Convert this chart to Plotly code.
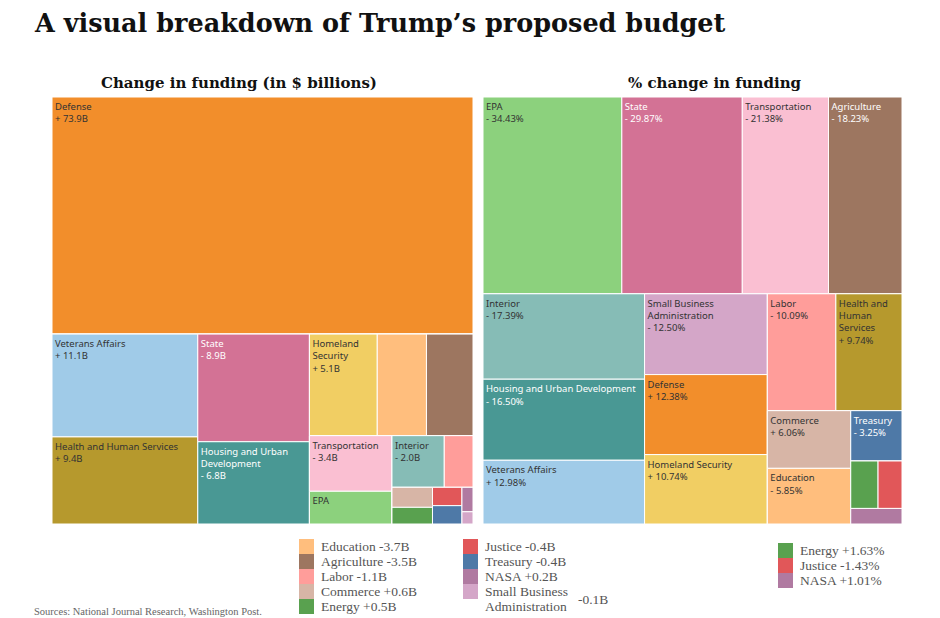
import plotly.graph_objects as go

# ---- data ----
departments = ["Defense", "Veterans Affairs", "Health and Human Services", "State",
               "Housing and Urban Development", "Homeland Security", "Education",
               "Agriculture", "Transportation", "Interior", "EPA", "Labor", "Commerce",
               "Energy", "Justice", "Treasury", "NASA", "Small Business Administration"]
change_billions = [73.9, 11.1, 9.4, -8.9, -6.8, 5.1, -3.7, -3.5, -3.4, -2.0, -2.0,
                   -1.1, 0.6, 0.5, -0.4, -0.4, 0.2, -0.1]
pct_departments = ["EPA", "State", "Transportation", "Agriculture", "Interior",
                   "Housing and Urban Development", "Veterans Affairs",
                   "Small Business Administration", "Defense", "Homeland Security",
                   "Labor", "Health and Human Services", "Commerce", "Education",
                   "Treasury", "Energy", "Justice", "NASA"]
change_pct = [-34.43, -29.87, -21.38, -18.23, -17.39, -16.50, 12.98, -12.50, 12.38,
              10.74, -10.09, 9.74, 6.06, -5.85, -3.25, 1.63, -1.43, 1.01]

colors = {
    "Defense": "#F28E2B", "Veterans Affairs": "#A0CBE8",
    "Health and Human Services": "#B6992D", "State": "#D37295",
    "Housing and Urban Development": "#499894", "Homeland Security": "#F1CE63",
    "Education": "#FFBE7D", "Agriculture": "#9D7660", "Transportation": "#FABFD2",
    "Interior": "#86BCB6", "EPA": "#8CD17D", "Labor": "#FF9D9A",
    "Commerce": "#D7B5A6", "Energy": "#59A14F", "Justice": "#E15759",
    "Treasury": "#4E79A7", "NASA": "#B07AA1", "Small Business Administration": "#D4A6C8",
}
white_text = {"State", "Housing and Urban Development", "Agriculture", "Treasury"}

# tile grouping (nested lists; alternating row / column splits like the original)
left_tiles = ["Defense",
              [["Veterans Affairs", "Health and Human Services"],
               ["State", "Housing and Urban Development"],
               [["Homeland Security", "Education", "Agriculture"],
                [["Transportation", "EPA"],
                 [["Interior", "Labor"],
                  [["Commerce", "Energy"], ["Justice", "Treasury"],
                   ["NASA", "Small Business Administration"]]]]]]]
right_tiles = [["EPA", "State", "Transportation", "Agriculture"],
               [["Interior", "Housing and Urban Development", "Veterans Affairs"],
                ["Small Business Administration", "Defense", "Homeland Security"],
                [["Labor", "Health and Human Services"],
                 [["Commerce", "Education"],
                  ["Treasury", ["Energy", "Justice"], "NASA"]]]]]

# display names inside cells (wrapping) per chart; missing = no label in the cell
left_cell_names = {
    "Defense": "Defense", "Veterans Affairs": "Veterans Affairs",
    "Health and Human Services": "Health and Human Services", "State": "State",
    "Housing and Urban Development": "Housing and Urban<br>Development",
    "Homeland Security": "Homeland<br>Security", "Transportation": "Transportation",
    "Interior": "Interior", "EPA": "EPA",
}
left_show_value = {k for k in left_cell_names if k != "EPA"}
right_cell_names = {
    "EPA": "EPA", "State": "State", "Transportation": "Transportation",
    "Agriculture": "Agriculture", "Interior": "Interior",
    "Housing and Urban Development": "Housing and Urban Development",
    "Veterans Affairs": "Veterans Affairs",
    "Small Business Administration": "Small Business<br>Administration",
    "Defense": "Defense", "Homeland Security": "Homeland Security", "Labor": "Labor",
    "Health and Human Services": "Health and<br>Human<br>Services",
    "Commerce": "Commerce", "Education": "Education", "Treasury": "Treasury",
}

left_legend_col1 = ["Education", "Agriculture", "Labor", "Commerce", "Energy"]
left_legend_col2 = ["Justice", "Treasury", "NASA", "Small Business Administration"]
right_legend = ["Energy", "Justice", "NASA"]


def fmt_b(v):
    return ("+ " if v >= 0 else "- ") + f"{abs(v):.1f}B"


def fmt_p(v):
    return ("+ " if v >= 0 else "- ") + f"{abs(v):.2f}%"


def legend_b(v):
    return ("+" if v >= 0 else "-") + f"{abs(v):.1f}B"


def legend_p(v):
    return ("+" if v >= 0 else "-") + f"{abs(v):.2f}%"


def build(tiles, names, vals, cell_names, show_value, fmt, prefix):
    lookup = dict(zip(names, vals))
    ids, labels, parents, values, texts, cols, tcols = [], [], [], [], [], [], []
    counter = [0]

    def add_group(gid, parent):
        ids.append(gid); labels.append(""); parents.append(parent); values.append(0)
        texts.append(""); cols.append("white"); tcols.append("#333333")

    def walk(node, parent):
        if isinstance(node, list):
            counter[0] += 1
            gid = f"{prefix}g{counter[0]}"
            add_group(gid, parent)
            for ch in node:
                walk(ch, gid)
        else:
            v = lookup[node]
            ids.append(prefix + node); labels.append(node); parents.append(parent)
            values.append(abs(v))
            if node in cell_names:
                t = cell_names[node]
                if node in show_value:
                    t += "<br>" + fmt(v)
            else:
                t = ""
            texts.append(t)
            cols.append(colors[node])
            tcols.append("#ffffff" if node in white_text else "#333333")

    walk(tiles, "")
    return ids, labels, parents, values, texts, cols, tcols


W, H = 940, 618
cell_font = "Noto Sans, Open Sans, sans-serif"


def tm(built, xdom, ydom):
    ids, labels, parents, values, texts, cols, tcols = built
    return go.Treemap(
        ids=ids, labels=labels, parents=parents, values=values,
        branchvalues="remainder",
        text=texts,
        texttemplate="%{text}",
        textposition="top left",
        textfont=dict(family=cell_font, size=9.5, color=tcols),
        marker=dict(colors=cols, line=dict(color="white", width=1),
                    pad=dict(t=0, l=0, r=0, b=0)),
        tiling=dict(packing="dice-slice", pad=0),
        pathbar=dict(visible=False),
        sort=False,
        hoverinfo="label+value",
        domain=dict(x=[xdom[0] / W, xdom[1] / W], y=[1 - ydom[1] / H, 1 - ydom[0] / H]),
    )


left_built = build(left_tiles, departments, change_billions, left_cell_names,
                   left_show_value, fmt_b, "L")
right_built = build(right_tiles, pct_departments, change_pct, right_cell_names,
                    set(right_cell_names), fmt_p, "R")

fig = go.Figure()
fig.add_trace(tm(left_built, (52, 473), (97, 524)))
fig.add_trace(tm(right_built, (483, 902), (97, 524)))

annotations = []
shapes = []
serif = "DejaVu Serif, Liberation Serif, serif"
serif2 = "Liberation Serif, Georgia, serif"

annotations.append(dict(text="<b>A visual breakdown of Trump’s proposed budget</b>",
                        x=32 / W, y=1 - 23 / H, xref="paper", yref="paper",
                        xanchor="left", yanchor="middle", showarrow=False,
                        font=dict(family=serif, size=25.5, color="#111111")))
annotations.append(dict(text="<b>Change in funding (in $ billions)</b>",
                        x=239 / W, y=1 - 83 / H, xref="paper", yref="paper",
                        xanchor="center", yanchor="middle", showarrow=False,
                        font=dict(family=serif, size=15, color="#111111")))
annotations.append(dict(text="<b>% change in funding</b>",
                        x=715 / W, y=1 - 83 / H, xref="paper", yref="paper",
                        xanchor="center", yanchor="middle", showarrow=False,
                        font=dict(family=serif, size=15, color="#111111")))
annotations.append(dict(text="Sources: National Journal Research, Washington Post.",
                        x=32 / W, y=1 - 611 / H, xref="paper", yref="paper",
                        xanchor="left", yanchor="middle", showarrow=False,
                        font=dict(family=serif2, size=10.5, color="#666666")))

legend_font = dict(family=serif2, size=13.5, color="#555555")
sq = 15


def add_legend(items, lookup_vals, lookup_names, fmt, x0, y0):
    y = y0
    for d in items:
        v = lookup_vals[lookup_names.index(d)]
        shapes.append(dict(type="rect", xref="paper", yref="paper",
                           x0=x0 / W, x1=(x0 + sq) / W, y0=1 - (y + sq) / H, y1=1 - y / H,
                           fillcolor=colors[d], line=dict(width=0)))
        if d == "Small Business Administration":
            for k, part in enumerate(["Small Business", "Administration"]):
                annotations.append(dict(text=part, x=(x0 + sq + 5) / W,
                                        y=1 - (y + sq / 2 + k * 15) / H,
                                        xref="paper", yref="paper", xanchor="left",
                                        yanchor="middle", showarrow=False,
                                        font=legend_font))
            annotations.append(dict(text=fmt(v), x=576 / W, y=1 - (y + 15) / H,
                                    xref="paper", yref="paper", xanchor="left",
                                    yanchor="middle", showarrow=False, font=legend_font))
        else:
            annotations.append(dict(text=f"{d} {fmt(v)}", x=(x0 + sq + 5) / W,
                                    y=1 - (y + sq / 2) / H, xref="paper", yref="paper",
                                    xanchor="left", yanchor="middle", showarrow=False,
                                    font=legend_font))
        y += sq


add_legend(left_legend_col1, change_billions, departments, legend_b, 299, 539)
add_legend(left_legend_col2, change_billions, departments, legend_b, 463, 539)
add_legend(right_legend, change_pct, pct_departments, legend_p, 778, 543)

fig.update_layout(width=W, height=H, margin=dict(l=0, r=0, t=0, b=0),
                  paper_bgcolor="white", plot_bgcolor="white",
                  annotations=annotations, shapes=shapes, showlegend=False)

fig.write_html("out.html")
